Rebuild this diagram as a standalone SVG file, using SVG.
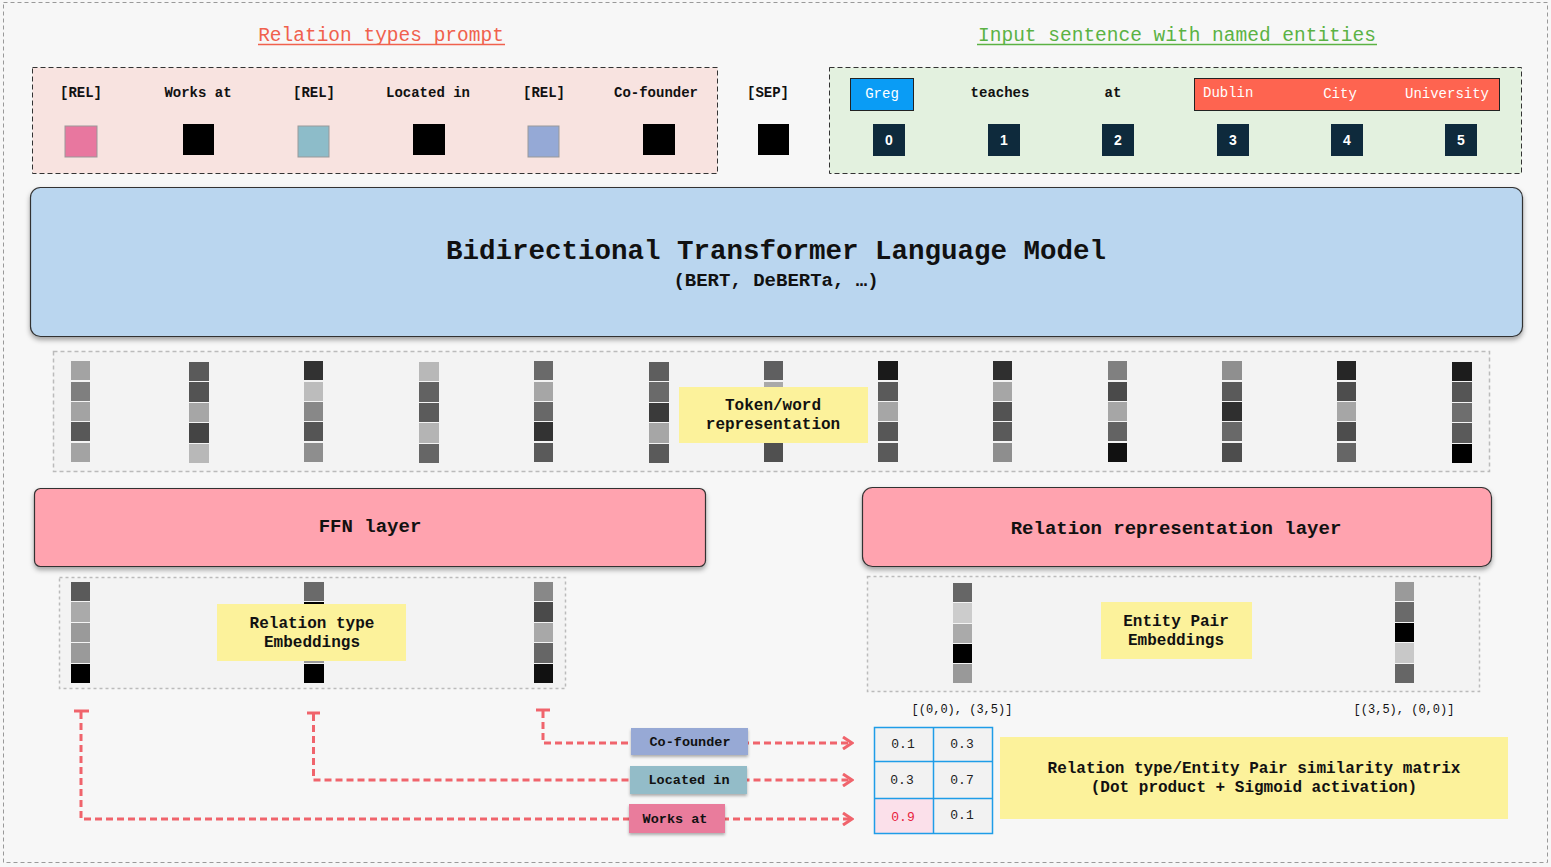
<svg xmlns="http://www.w3.org/2000/svg" width="1551" height="867" viewBox="0 0 1551 867">
<defs>
<style>
.mono{font-family:"Liberation Mono","Courier New",monospace;}
.b{font-weight:bold;}
.lbl{font-family:"Liberation Mono","Courier New",monospace;font-weight:bold;font-size:14px;fill:#111;text-anchor:middle;}
.note{fill:#fcf29b;}
.notet{font-family:"Liberation Mono","Courier New",monospace;font-weight:bold;font-size:16px;fill:#111;text-anchor:middle;}
.layer{stroke:#333;stroke-width:1.2;}
.cell{stroke:none;}
.conn{fill:none;stroke:#f0646c;stroke-width:3;stroke-dasharray:7 4;}
.tee{stroke:#f0646c;stroke-width:3;}
.num{font-family:"Liberation Sans",Arial,sans-serif;font-weight:bold;font-size:14px;fill:#fff;text-anchor:middle;}
.mv{font-family:"Liberation Mono","Courier New",monospace;font-size:13px;fill:#222;text-anchor:middle;}
</style>
<filter id="sh" x="-5%" y="-10%" width="110%" height="130%">
<feDropShadow dx="0" dy="3" stdDeviation="2.5" flood-color="#000" flood-opacity="0.35"/>
</filter>
<filter id="sh2" x="-10%" y="-20%" width="120%" height="160%">
<feDropShadow dx="0" dy="2" stdDeviation="1.5" flood-color="#000" flood-opacity="0.3"/>
</filter>
<marker id="arr" viewBox="0 0 12 14" refX="10" refY="7" markerWidth="12" markerHeight="14" markerUnits="userSpaceOnUse" orient="auto">
<path d="M1,1 L10,7 L1,13" fill="none" stroke="#f0646c" stroke-width="3"/>
</marker>
</defs>

<rect x="0" y="0" width="1551" height="867" fill="#f7f7f7"/>
<rect x="3.5" y="2.5" width="1544" height="860" fill="#f7f7f7" stroke="#999" stroke-width="1" stroke-dasharray="4 3"/>

<!-- Titles -->
<g id="title-prompt">
<text x="381" y="41" class="mono" font-size="19.5" fill="#f0614d" text-anchor="middle">Relation types prompt</text>
<line x1="258" y1="44.5" x2="505" y2="44.5" stroke="#f0614d" stroke-width="1.5"/>
</g>
<g id="title-input">
<text x="1177" y="41" class="mono" font-size="19.5" fill="#5bb244" text-anchor="middle">Input sentence with named entities</text>
<line x1="977" y1="44.5" x2="1377" y2="44.5" stroke="#5bb244" stroke-width="1.5"/>
</g>

<!-- Prompt -->
<g id="prompt">
<rect x="32.5" y="67.5" width="685" height="106" fill="#f8e3e0" stroke="#333" stroke-width="1" stroke-dasharray="5 3"/>
<text x="81" y="97" class="lbl">[REL]</text>
<text x="198" y="97" class="lbl">Works at</text>
<text x="314" y="97" class="lbl">[REL]</text>
<text x="428" y="97" class="lbl">Located in</text>
<text x="544" y="97" class="lbl">[REL]</text>
<text x="656" y="97" class="lbl">Co-founder</text>
<rect x="65" y="126" width="32" height="31" fill="#e8779f" stroke="#999" stroke-width="1"/>
<rect x="183" y="124" width="31" height="31" fill="#000"/>
<rect x="298" y="126" width="31" height="31" fill="#8dbcc9" stroke="#999" stroke-width="1"/>
<rect x="413" y="124" width="32" height="31" fill="#000"/>
<rect x="528" y="126" width="31" height="31" fill="#95a9d6" stroke="#999" stroke-width="1"/>
<rect x="643" y="124" width="32" height="31" fill="#000"/>
</g>
<g id="sep">
<text x="768" y="97" class="lbl">[SEP]</text>
<rect x="758" y="124" width="31" height="31" fill="#000"/>
</g>

<!-- Input sentence -->
<g id="input">
<rect x="829.5" y="67.5" width="692" height="106" fill="#e3f1df" stroke="#333" stroke-width="1" stroke-dasharray="5 3"/>
<rect x="850.5" y="78.5" width="63" height="32" fill="#0a9cf5" stroke="#222" stroke-width="1"/>
<text x="882" y="98" class="mono" font-size="14" fill="#fff" text-anchor="middle">Greg</text>
<text x="1000" y="97" class="lbl">teaches</text>
<text x="1113" y="97" class="lbl">at</text>
<rect x="1194.5" y="78.5" width="305" height="32" fill="#fe6450" stroke="#222" stroke-width="1"/>
<text x="1203" y="97" class="mono" font-size="14" fill="#fff">Dublin</text>
<text x="1340" y="98" class="mono" font-size="14" fill="#fff" text-anchor="middle">City</text>
<text x="1447" y="98" class="mono" font-size="14" fill="#fff" text-anchor="middle">University</text>
<g fill="#0e2a3c">
<rect x="873" y="124" width="32" height="32"/>
<rect x="988" y="124" width="32" height="32"/>
<rect x="1102" y="124" width="32" height="32"/>
<rect x="1217" y="124" width="32" height="32"/>
<rect x="1331" y="124" width="32" height="32"/>
<rect x="1445" y="124" width="32" height="32"/>
</g>
<text x="889" y="145" class="num">0</text>
<text x="1004" y="145" class="num">1</text>
<text x="1118" y="145" class="num">2</text>
<text x="1233" y="145" class="num">3</text>
<text x="1347" y="145" class="num">4</text>
<text x="1461" y="145" class="num">5</text>
</g>

<!-- Transformer -->
<g id="transformer">
<rect x="30.5" y="187.5" width="1492" height="149" rx="10" fill="#bad6ef" stroke="#333" stroke-width="1.2" filter="url(#sh)"/>
<text x="776" y="259" class="mono b" font-size="27.5" fill="#111" text-anchor="middle">Bidirectional Transformer Language Model</text>
<text x="776" y="286" class="mono b" font-size="19" fill="#111" text-anchor="middle">(BERT, DeBERTa, …)</text>
</g>

<!-- Token representation -->
<g id="token-repr">
<rect x="53.5" y="351.5" width="1436" height="120" fill="#f3f3f3" stroke="#bbb" stroke-width="1.5" stroke-dasharray="4 3"/>
<g class="cell">
<!-- col centers: 80,199,313,428,543,658,773,887,1002,1117,1232,1346,1461 -->
<g transform="translate(71,0)"><rect y="361" width="19" height="19" fill="#a3a3a3"/><rect y="382" width="19" height="19" fill="#7f7f7f"/><rect y="402" width="19" height="19" fill="#a3a3a3"/><rect y="422" width="19" height="19" fill="#585858"/><rect y="443" width="19" height="19" fill="#a3a3a3"/></g>
<g transform="translate(189,0)"><rect y="362" width="20" height="19" fill="#5a5a5a"/><rect y="382" width="20" height="20" fill="#535353"/><rect y="403" width="20" height="19" fill="#a6a6a6"/><rect y="423" width="20" height="20" fill="#444"/><rect y="444" width="20" height="19" fill="#b8b8b8"/></g>
<g transform="translate(304,0)"><rect y="361" width="19" height="19" fill="#323232"/><rect y="382" width="19" height="19" fill="#bcbcbc"/><rect y="402" width="19" height="19" fill="#888"/><rect y="422" width="19" height="19" fill="#555"/><rect y="443" width="19" height="19" fill="#8e8e8e"/></g>
<g transform="translate(419,0)"><rect y="362" width="20" height="19" fill="#b8b8b8"/><rect y="382" width="20" height="20" fill="#626262"/><rect y="403" width="20" height="19" fill="#5b5b5b"/><rect y="423" width="20" height="20" fill="#b4b4b4"/><rect y="444" width="20" height="19" fill="#666"/></g>
<g transform="translate(534,0)"><rect y="361" width="19" height="19" fill="#6a6a6a"/><rect y="382" width="19" height="19" fill="#a6a6a6"/><rect y="402" width="19" height="19" fill="#686868"/><rect y="422" width="19" height="19" fill="#333"/><rect y="443" width="19" height="19" fill="#5a5a5a"/></g>
<g transform="translate(649,0)"><rect y="362" width="20" height="19" fill="#5e5e5e"/><rect y="382" width="20" height="20" fill="#6a6a6a"/><rect y="403" width="20" height="19" fill="#3a3a3a"/><rect y="423" width="20" height="20" fill="#a6a6a6"/><rect y="444" width="20" height="19" fill="#5a5a5a"/></g>
<g transform="translate(764,0)"><rect y="361" width="19" height="19" fill="#5f5f60"/><rect y="382" width="19" height="19" fill="#a9a9a9"/><rect y="402" width="19" height="19" fill="#777"/><rect y="422" width="19" height="19" fill="#666"/><rect y="443" width="19" height="19" fill="#505050"/></g>
<g transform="translate(878,0)"><rect y="361" width="20" height="19" fill="#1a1a1a"/><rect y="382" width="20" height="19" fill="#5a5a5a"/><rect y="402" width="20" height="19" fill="#a6a6a6"/><rect y="422" width="20" height="19" fill="#575757"/><rect y="443" width="20" height="19" fill="#5a5a5a"/></g>
<g transform="translate(993,0)"><rect y="361" width="19" height="19" fill="#2f2f2f"/><rect y="382" width="19" height="19" fill="#a6a6a6"/><rect y="402" width="19" height="19" fill="#535353"/><rect y="422" width="19" height="19" fill="#5a5a5a"/><rect y="443" width="19" height="19" fill="#8e8e8e"/></g>
<g transform="translate(1108,0)"><rect y="361" width="19" height="19" fill="#808080"/><rect y="382" width="19" height="19" fill="#4a4a4a"/><rect y="402" width="19" height="19" fill="#a6a6a6"/><rect y="422" width="19" height="19" fill="#636363"/><rect y="443" width="19" height="19" fill="#111"/></g>
<g transform="translate(1222,0)"><rect y="361" width="20" height="19" fill="#8f8f8f"/><rect y="382" width="20" height="19" fill="#5a5a5a"/><rect y="402" width="20" height="19" fill="#2f2f2f"/><rect y="422" width="20" height="19" fill="#696969"/><rect y="443" width="20" height="19" fill="#4d4d4d"/></g>
<g transform="translate(1337,0)"><rect y="361" width="19" height="19" fill="#262626"/><rect y="382" width="19" height="19" fill="#4d4d4d"/><rect y="402" width="19" height="19" fill="#a6a6a6"/><rect y="422" width="19" height="19" fill="#4d4d4d"/><rect y="443" width="19" height="19" fill="#666"/></g>
<g transform="translate(1452,0)"><rect y="362" width="20" height="19" fill="#1c1c1c"/><rect y="382" width="20" height="20" fill="#555"/><rect y="403" width="20" height="19" fill="#6e6e6e"/><rect y="423" width="20" height="20" fill="#5a5a5a"/><rect y="444" width="20" height="19" fill="#000"/></g>
</g>
<rect x="679" y="387" width="189" height="56" class="note"/>
<text x="773" y="410" class="notet">Token/word</text>
<text x="773" y="429" class="notet">representation</text>
</g>

<!-- FFN layer -->
<g id="ffn">
<rect x="34.5" y="488.5" width="671" height="78" rx="6" fill="#ffa3af" class="layer" filter="url(#sh)"/>
<text x="370" y="532" class="mono b" font-size="19" fill="#111" text-anchor="middle">FFN layer</text>
</g>

<!-- Relation representation layer -->
<g id="rel-layer">
<rect x="862.5" y="487.5" width="629" height="79" rx="10" fill="#ffa3af" class="layer" filter="url(#sh)"/>
<text x="1176" y="534" class="mono b" font-size="19" fill="#111" text-anchor="middle">Relation representation layer</text>
</g>

<!-- Relation type embeddings -->
<g id="rel-emb">
<rect x="59.5" y="577.5" width="506" height="111" fill="#f3f3f3" stroke="#bbb" stroke-width="1.5" stroke-dasharray="3 3"/>
<g transform="translate(71,0)"><rect y="582" width="19" height="19" fill="#5a5a5a"/><rect y="602" width="19" height="20" fill="#aaa"/><rect y="623" width="19" height="19" fill="#9a9a9a"/><rect y="643" width="19" height="20" fill="#9a9a9a"/><rect y="664" width="19" height="19" fill="#000"/></g>
<g transform="translate(304,0)"><rect y="582" width="20" height="19" fill="#6a6a6a"/><rect y="602" width="20" height="20" fill="#000"/><rect y="623" width="20" height="19" fill="#888"/><rect y="643" width="20" height="20" fill="#9a9a9a"/><rect y="664" width="20" height="19" fill="#000"/></g>
<g transform="translate(534,0)"><rect y="582" width="19" height="19" fill="#888"/><rect y="602" width="19" height="20" fill="#4a4a4a"/><rect y="623" width="19" height="19" fill="#a8a8a8"/><rect y="643" width="19" height="20" fill="#666"/><rect y="664" width="19" height="19" fill="#111"/></g>
<rect x="217" y="604" width="189" height="57" class="note"/>
<text x="312" y="628" class="notet">Relation type</text>
<text x="312" y="647" class="notet">Embeddings</text>
</g>

<!-- Entity pair embeddings -->
<g id="pair-emb">
<rect x="867.5" y="576.5" width="612" height="115" fill="#f3f3f3" stroke="#bbb" stroke-width="1.5" stroke-dasharray="3 3"/>
<g transform="translate(953,0)"><rect y="583" width="19" height="19" fill="#666"/><rect y="603" width="19" height="20" fill="#ccc"/><rect y="624" width="19" height="19" fill="#aaa"/><rect y="644" width="19" height="19" fill="#000"/><rect y="664" width="19" height="19" fill="#999"/></g>
<g transform="translate(1395,0)"><rect y="582" width="19" height="19" fill="#9a9a9a"/><rect y="602" width="19" height="20" fill="#6a6a6a"/><rect y="623" width="19" height="19" fill="#000"/><rect y="643" width="19" height="20" fill="#c8c8c8"/><rect y="664" width="19" height="19" fill="#666"/></g>
<rect x="1101" y="602" width="151" height="57" class="note"/>
<text x="1176" y="626" class="notet">Entity Pair</text>
<text x="1176" y="645" class="notet">Embeddings</text>
<text x="962" y="713" class="mono" font-size="12" fill="#111" text-anchor="middle">[(0,0), (3,5)]</text>
<text x="1404" y="713" class="mono" font-size="12" fill="#111" text-anchor="middle">[(3,5), (0,0)]</text>
</g>

<!-- Connectors -->
<g id="connectors">
<line x1="74" y1="711" x2="89" y2="711" class="tee"/>
<path d="M81,712 V819 H852" class="conn" marker-end="url(#arr)"/>
<line x1="307" y1="713" x2="320" y2="713" class="tee"/>
<path d="M313.5,714 V780 H852" class="conn" marker-end="url(#arr)"/>
<line x1="536" y1="710" x2="550" y2="710" class="tee"/>
<path d="M543,711 V743 H852" class="conn" marker-end="url(#arr)"/>
</g>

<!-- Relation labels on connectors -->
<g id="lab-cofounder">
<rect x="631" y="728" width="117" height="27" fill="#97a9d5" filter="url(#sh2)"/>
<text x="690" y="746" class="mono b" font-size="13.5" fill="#111" text-anchor="middle">Co-founder</text>
</g>
<g id="lab-located">
<rect x="630" y="766" width="117" height="28" fill="#93bcc8" filter="url(#sh2)"/>
<text x="689" y="784" class="mono b" font-size="13.5" fill="#111" text-anchor="middle">Located in</text>
</g>
<g id="lab-works">
<rect x="629" y="804" width="96" height="29" fill="#e97c9c" filter="url(#sh2)"/>
<text x="675" y="823" class="mono b" font-size="13.5" fill="#111" text-anchor="middle">Works at</text>
</g>

<!-- Similarity matrix -->
<g id="matrix">
<rect x="874.5" y="727.5" width="59" height="34" fill="#f2f2f2"/>
<rect x="933.5" y="727.5" width="59" height="34" fill="#f2f2f2"/>
<rect x="874.5" y="761.5" width="59" height="37" fill="#f2f2f2"/>
<rect x="933.5" y="761.5" width="59" height="37" fill="#f2f2f2"/>
<rect x="874.5" y="798.5" width="59" height="35" fill="#fbe0ea"/>
<rect x="933.5" y="798.5" width="59" height="35" fill="#f2f2f2"/>
<g fill="none" stroke="#1f9de8" stroke-width="1.5">
<rect x="874.5" y="727.5" width="118" height="106"/>
<line x1="933.5" y1="727.5" x2="933.5" y2="833.5"/>
<line x1="874.5" y1="761.5" x2="992.5" y2="761.5"/>
<line x1="874.5" y1="798.5" x2="992.5" y2="798.5"/>
</g>
<text x="903" y="748" class="mv">0.1</text>
<text x="962" y="748" class="mv">0.3</text>
<text x="902" y="784" class="mv">0.3</text>
<text x="962" y="784" class="mv">0.7</text>
<text x="903" y="821" class="mv" fill="#e8203b" style="fill:#e8203b">0.9</text>
<text x="962" y="819" class="mv">0.1</text>
</g>

<g id="matrix-note">
<rect x="1000" y="737" width="508" height="82" class="note"/>
<text x="1254" y="773" class="notet">Relation type/Entity Pair similarity matrix</text>
<text x="1254" y="792" class="notet">(Dot product + Sigmoid activation)</text>
</g>
</svg>
